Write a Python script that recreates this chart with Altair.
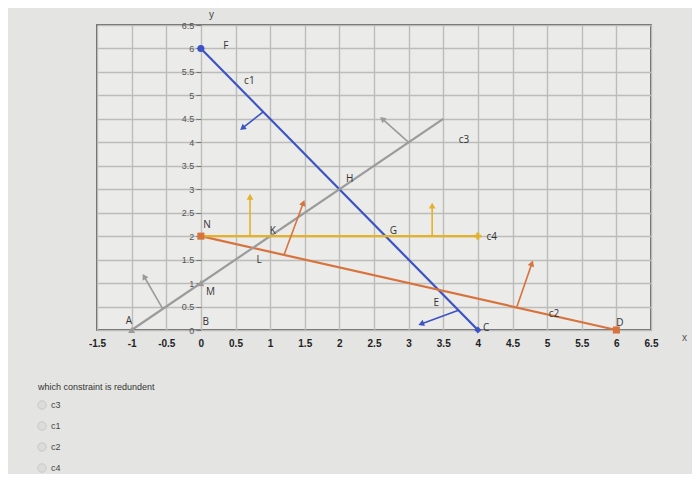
import math
import altair as alt
import pandas as pd

# ---------------- data ----------------
constraints = ["c1", "c2", "c3", "c4"]
c1_x = [0, 4];    c1_y = [6, 0]
c2_x = [0, 6];    c2_y = [2, 0]
c3_x = [-1, 3.5]; c3_y = [0, 4.5]
c4_x = [0, 4];    c4_y = [2, 2]

# arrows (constraint, start x, start y, end x, end y)
arrow_c = ["c1", "c1", "c3", "c3", "c4", "c4", "c2", "c2"]
arrow_x = [0.9, 3.72, -0.55, 3.0, 0.71, 3.34, 1.2, 4.56]
arrow_y = [4.65, 0.42, 0.45, 4.0, 2.0, 2.0, 1.6, 0.48]
arrow_x2 = [0.6, 3.18, -0.82, 2.62, 0.71, 3.34, 1.48, 4.78]
arrow_y2 = [4.3, 0.13, 1.14, 4.5, 2.84, 2.65, 2.71, 1.42]

# end markers
mark_c = ["c1", "c1", "c2", "c2", "c3", "c3", "c4"]
mark_x = [0, 4, 0, 6, -1, 0, 4]
mark_y = [6, 0, 2, 0, 0, 1, 2]
mark_shape = ["circle", "diamond", "square", "square", "triangle-up", "triangle-up", "cross"]

# text labels
label_text = ["A", "B", "C", "D", "E", "F", "G", "H", "K", "L", "M", "N", "c1", "c2", "c3", "c4"]
label_x = [-1.04, 0.07, 4.12, 6.05, 3.4, 0.36, 2.78, 2.15, 1.04, 0.84, 0.14, 0.09, 0.7, 5.1, 3.8, 4.2]
label_y = [0.2, 0.17, 0.04, 0.14, 0.57, 6.05, 2.1, 3.22, 2.12, 1.5, 0.8, 2.23, 5.3, 0.34, 4.05, 1.98]

x_ticks = [-1.5, -1, -0.5, 0, 0.5, 1, 1.5, 2, 2.5, 3, 3.5, 4, 4.5, 5, 5.5, 6, 6.5]
y_ticks = [0, 0.5, 1, 1.5, 2, 2.5, 3, 3.5, 4, 4.5, 5, 5.5, 6, 6.5]

question = "which constraint is redundent"
options = ["c3", "c1", "c2", "c4"]

# ---------------- layout / style ----------------
W, H = 554, 305
XD = [-1.5, 6.5]
YD = [0, 6.5]
colors = ["#3b53c4", "#d8733e", "#9b9b9b", "#e3b22a"]
pxx = W / (XD[1] - XD[0])
pxy = H / (YD[1] - YD[0])
TOP = 17

lines = pd.DataFrame(
    [("c1", x, y, i) for i, (x, y) in enumerate(zip(c1_x, c1_y))]
    + [("c2", x, y, i) for i, (x, y) in enumerate(zip(c2_x, c2_y))]
    + [("c3", x, y, i) for i, (x, y) in enumerate(zip(c3_x, c3_y))]
    + [("c4", x, y, i) for i, (x, y) in enumerate(zip(c4_x, c4_y))],
    columns=["c", "x", "y", "o"],
)
arrows = pd.DataFrame({"c": arrow_c, "x": arrow_x, "y": arrow_y, "x2": arrow_x2, "y2": arrow_y2})
arrows["ang"] = [
    (math.degrees(math.atan2((b2 - b1) * pxx, (d2 - d1) * pxy)) + 360) % 360
    for b1, d1, b2, d2 in zip(arrow_x, arrow_y, arrow_x2, arrow_y2)
]
marks = pd.DataFrame({"c": mark_c, "x": mark_x, "y": mark_y, "shape": mark_shape})
labels = pd.DataFrame({"t": label_text, "x": label_x, "y": label_y})

xs = alt.Scale(domain=XD, nice=False, zero=False)
ys = alt.Scale(domain=YD, nice=False, zero=False)
cs = alt.Scale(domain=constraints, range=colors)

x_axis = alt.Axis(values=x_ticks, labelExpr="datum.value + ''", labelFontWeight="bold",
                  labelFontSize=10, labelColor="#222", labelPadding=8, ticks=False, domain=False,
                  labelOverlap=False, labelBound=False, labelFlush=False,
                  grid=True, gridColor="#bcbcba", gridWidth=1.4, title="x", titleFontWeight="normal",
                  titleFontSize=10, titleColor="#555", titleX=W + 33, titleY=2, labelFont="Liberation Sans")
y_axis = alt.Axis(values=y_ticks, labelExpr="datum.value + ''", labelFontSize=9, labelColor="#555",
                  offset=-(0 - XD[0]) * pxx, ticks=True, tickSize=5, tickColor="#777", domain=False,
                  labelOverlap=False, labelBound=False, labelFlush=False, labelSeparation=0,
                  grid=True, gridColor="#bcbcba", gridWidth=1.4, title="y", titleAngle=0,
                  titleFontWeight="normal", titleFontSize=10, titleColor="#444", titleX=10, titleY=-11,
                  titleBaseline="middle", labelFont="Liberation Sans")

X = lambda f: alt.X(f, scale=xs, axis=x_axis)
Y = lambda f: alt.Y(f, scale=ys, axis=y_axis)

line_layer = alt.Chart(lines).mark_line(strokeWidth=2.2).encode(
    x=X("x:Q"), y=Y("y:Q"),
    color=alt.Color("c:N", scale=cs, legend=None),
    detail="c:N",
    order="o:Q",
)
shaft = alt.Chart(arrows).mark_rule(strokeWidth=1.6).encode(
    x=X("x:Q"), y=Y("y:Q"),
    x2="x2:Q", y2="y2:Q",
    color=alt.Color("c:N", scale=cs, legend=None),
)
heads = alt.Chart(arrows).mark_point(shape="triangle-up", filled=True, size=45, opacity=1).encode(
    x=X("x2:Q"), y=Y("y2:Q"),
    angle=alt.Angle("ang:Q", scale=None),
    color=alt.Color("c:N", scale=cs, legend=None),
)
pts = alt.Chart(marks).mark_point(filled=True, size=50, opacity=1).encode(
    x=X("x:Q"), y=Y("y:Q"),
    shape=alt.Shape("shape:N", scale=None),
    color=alt.Color("c:N", scale=cs, legend=None),
)
txt = alt.Chart(labels).mark_text(fontSize=10, color="#333", font="Open Sans").encode(
    x=X("x:Q"), y=Y("y:Q"), text="t:N",
)

layers = [line_layer, shaft, heads, pts, txt]

# question block below the chart (UI text, positioned in pixels relative to plot)
q = alt.Chart(pd.DataFrame({"t": [question]})).mark_text(
    align="left", fontSize=9, color="#333", font="Liberation Sans"
).encode(text="t:N", x=alt.value(-59), y=alt.value(387 - 8 - TOP))
layers.append(q)
for i, opt in enumerate(options):
    yy = 405 - 8 - TOP + i * 21
    d = pd.DataFrame({"t": [opt]})
    layers.append(alt.Chart(d).mark_point(shape="circle", filled=True, size=70, fill="#dcdcda",
                                          stroke="#c8c8c6", strokeWidth=1, opacity=1)
                  .encode(x=alt.value(-55), y=alt.value(yy)))
    layers.append(alt.Chart(d).mark_text(align="left", fontSize=9, color="#444", font="Liberation Sans")
                  .encode(text="t:N", x=alt.value(-46), y=alt.value(yy)))

chart = alt.layer(*layers).properties(
    width=W, height=H,
    autosize=alt.AutoSizeParams(type="none"),
    padding={"left": 89, "top": TOP, "right": 684 - 89 - W, "bottom": 466 - TOP - H},
    background="#e4e4e2",
).configure_view(stroke="#3a3a3a", strokeWidth=1.5, fill="#ebebe9"
).configure_axis(labelOverlap=False)

chart.save("out.html", embed_options={"renderer": "svg", "actions": False})
